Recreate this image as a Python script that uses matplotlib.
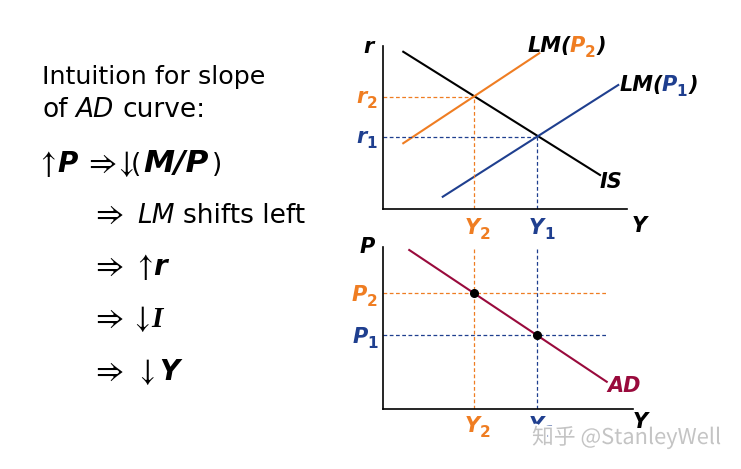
import matplotlib
matplotlib.use('Agg')
import matplotlib.pyplot as plt
import matplotlib.patheffects as pe
from matplotlib.transforms import IdentityTransform

W, H = 741, 469
ORANGE = '#EF7D22'
BLUE = '#1F3F8F'
MAROON = '#990A3C'

# IS-LM panel (Y on x axis, r on y axis)
is_y = [0.81, 8.68]
is_r = [6.29, 1.36]
lm2_y = [0.81, 6.25]
lm2_r = [2.63, 6.23]
lm1_y = [2.39, 9.41]
lm1_r = [0.49, 4.96]
eq_y = [3.62, 6.17]    # Y2, Y1
eq_r = [4.48, 2.87]    # r2, r1

# AD panel
ad_y = [1.05, 8.95]
ad_p = [6.37, 1.10]
eq_p = [4.64, 2.96]    # P2, P1
guide_end = 8.95

fig = plt.figure(figsize=(W / 100, H / 100), dpi=100)
renderer = fig.canvas.get_renderer()


def put(x, y, s, **kw):
    # x, y in pixels from the top-left corner, y is the baseline
    kw.pop('gap', None)
    kw.setdefault('size', 19)
    kw.setdefault('color', 'black')
    return fig.text(x, H - y, s, transform=IdentityTransform(),
                    va='baseline', **kw)


def label(x, y, parts, ha='left'):
    texts = []
    cur = x
    for s, kw in parts:
        kw = dict(kw)
        dy = kw.pop('dy', 0)
        gap = kw.pop('gap', 0)
        t = put(cur, y + dy, s, **kw)
        cur += t.get_window_extent(renderer).width + gap
        texts.append(t)
    shift = {'left': 0, 'center': (cur - x) / 2, 'right': cur - x}[ha]
    for t in texts:
        px, py = t.get_position()
        t.set_position((px - shift, py))


def to_px(ax, xd, yd):
    X, Y = ax.transData.transform((xd, yd))
    return X, H - Y


def bi(color='black', size=15, gap=0):
    return dict(size=size, weight='bold', style='italic', color=color, gap=gap)


def sub(color):
    return dict(size=11, weight='bold', color=color, dy=5, gap=1)


def setup(ax):
    for side in ['top', 'right']:
        ax.spines[side].set_visible(False)
    for side in ['left', 'bottom']:
        ax.spines[side].set_linewidth(1.2)
    ax.set_xticks([])
    ax.set_yticks([])
    ax.patch.set_alpha(0)


dash = (0, (3, 2))

# ---- top: IS-LM ----
ax1 = fig.add_axes([383 / W, (H - 209) / H, 244 / W, 163 / H])
ax1.set_xlim(0, 9.76)
ax1.set_ylim(0, 6.52)
setup(ax1)
ax1.plot(is_y, is_r, color='black', lw=1.5, clip_on=False)
ax1.plot(lm2_y, lm2_r, color=ORANGE, lw=1.5, clip_on=False)
ax1.plot(lm1_y, lm1_r, color=BLUE, lw=1.5, clip_on=False)
for yy, rr, c in zip(eq_y, eq_r, [ORANGE, BLUE]):
    ax1.hlines(rr, 0, yy, colors=c, linestyles=dash, lw=0.9)
    ax1.vlines(yy, 0, rr, colors=c, linestyles=dash, lw=0.9)

# ---- bottom: AD ----
ax2 = fig.add_axes([383 / W, (H - 409.3) / H, 250 / W, 162.3 / H])
ax2.set_xlim(0, 10)
ax2.set_ylim(0, 6.49)
setup(ax2)
ax2.plot(ad_y, ad_p, color=MAROON, lw=1.5, clip_on=False)
top = ax2.get_ylim()[1]
for yy, pp, c in zip(eq_y, eq_p, [ORANGE, BLUE]):
    ax2.hlines(pp, 0, guide_end, colors=c, linestyles=dash, lw=0.9)
    ax2.vlines(yy, 0, top, colors=c, linestyles=dash, lw=0.9)
ax2.plot(eq_y, eq_p, 'o', color='black', ms=5.5, zorder=5)

# ---- labels, top panel ----
put(363, 53, 'r', **bi())
put(632, 232, 'Y', **bi())
put(600, 188, 'IS', **bi())
label(528, 52, [('LM(', bi(gap=-2)), ('P', bi(ORANGE)), ('2', sub(ORANGE)), (')', bi())])
label(620, 91, [('LM(', bi(gap=-2)), ('P', bi(BLUE)), ('1', sub(BLUE)), (')', bi())])
for yy, rr, c, n in zip(eq_y, eq_r, [ORANGE, BLUE], ['2', '1']):
    x, y = to_px(ax1, yy, rr)
    label(378, y + 6, [('r', bi(c)), (n, sub(c))], ha='right')
    label(x + 5, 234, [('Y', bi(c)), (n, sub(c))], ha='center')

# ---- labels, bottom panel ----
put(360, 253, 'P', **bi())
put(633, 428, 'Y', **bi())
put(607, 392, 'AD', **bi(MAROON))
for yy, pp, c, n in zip(eq_y, eq_p, [ORANGE, BLUE], ['2', '1']):
    x, y = to_px(ax2, yy, pp)
    label(379, y + 8, [('P', bi(c)), (n, sub(c))], ha='right')
    label(x + 5, 432, [('Y', bi(c)), (n, sub(c))], ha='center')

# ---- left text ----
it = dict(style='italic')
bold_it = dict(weight='bold', style='italic', size=20)
arrow = dict(family='STIXGeneral', size=22)
put(42, 84, 'Intuition for slope', size=18.3)
put(42, 117, 'of')
put(75, 117, 'AD', **it)
put(123, 117, 'curve:')

put(40, 172, '\u2191', **arrow)
put(57, 172, 'P', **bold_it)
put(88, 172, '\u21d2', **arrow)
put(118, 172, '\u2193', **arrow)
label(131, 172, [('(', dict(gap=2)),
                 ('M/P', dict(bold_it, size=22.5, gap=3)),
                 (')', {})])

put(95, 223, '\u21d2', **arrow)
put(137, 223, 'LM', **it)
put(183, 223, 'shifts left')

put(95, 275, '\u21d2', **arrow)
put(137, 275, '\u2191', **arrow)
put(153, 275, 'r', **bold_it)

put(95, 327, '\u21d2', **arrow)
put(134, 327, '\u2193', **arrow)
put(151, 327, 'I', **dict(bold_it, family='Liberation Serif', size=21))

put(95, 380, '\u21d2', **arrow)
put(139, 380, '\u2193', **arrow)
put(159, 380, 'Y', **bold_it)

# watermark
put(532, 444, '知乎 @StanleyWell', size=15.7, color='#c4c4c4',
    family=['Noto Sans CJK SC', 'DejaVu Sans'], zorder=10,
    path_effects=[pe.withStroke(linewidth=3, foreground='white')])

fig.savefig('out.png', dpi=100)
